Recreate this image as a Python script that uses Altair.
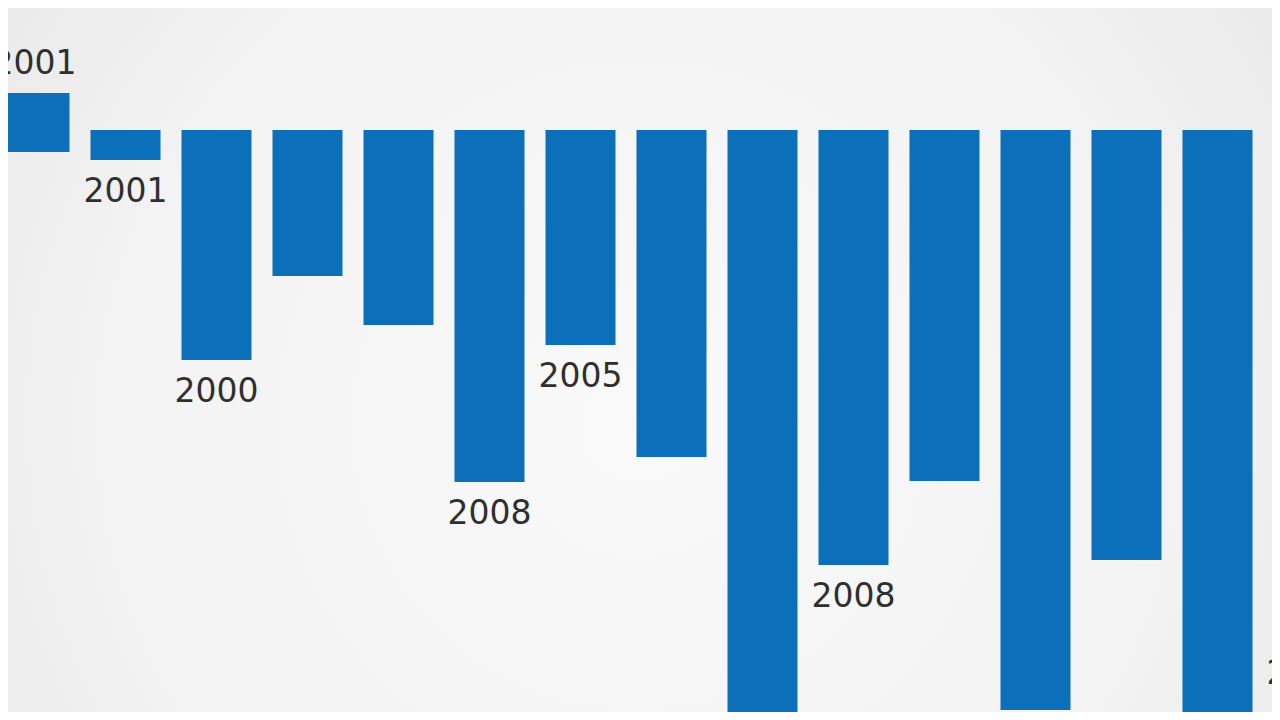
import altair as alt
import pandas as pd

# bar order (position index), bar start and end values, labels
positions = [1, 2, 3, 4, 5, 6, 7, 8, 9, 10, 11, 12, 13, 14, 15]
starts = [3.7, 0, 0, 0, 0, 0, 0, 0, 0, 0, 0, 0, 0, 0, 0]
values = [-2.2, -3.0, -23.0, -14.6, -19.5, -35.2, -21.5, -32.7, -66.0, -43.5, -35.1, -58.0, -43.0, -64.0, -51.2]
labels = ["2001", "2001", "2000", "", "", "2008", "2005", "", "", "2008", "", "", "", "", "2008"]
label_above = [True] + [False] * 14

bars = pd.DataFrame({"pos": positions, "start": starts, "end": values})
lab = pd.DataFrame({
    "pos": positions,
    "anchor": [s if a else v for s, v, a in zip(starts, values, label_above)],
    "label": labels,
    "above": label_above,
})
lab = lab[lab["label"] != ""]

W, H = 1264, 704
xs = alt.Scale(domain=[0.7088, 14.599], nice=False, zero=False, padding=0)
ys = alt.Scale(domain=[-58.2, 12.2], nice=False, zero=False, padding=0)

bg = alt.Chart(pd.DataFrame({"a": [0]})).mark_rect(
    fill=alt.RadialGradient(
        gradient="radial",
        x1=0.5, y1=0.55, r1=0.0,
        x2=0.5, y2=0.55, r2=0.75,
        stops=[
            alt.GradientStop(color="#f9f9f9", offset=0),
            alt.GradientStop(color="#f3f3f3", offset=0.55),
            alt.GradientStop(color="#e3e3e3", offset=1),
        ],
    )
).encode(x=alt.value(0), x2=alt.value(W), y=alt.value(0), y2=alt.value(H))

bar = alt.Chart(bars).mark_bar(color="#0b6fba", size=70, clip=True).encode(
    x=alt.X("pos:Q", scale=xs, axis=None),
    y=alt.Y("start:Q", scale=ys, axis=None),
    y2="end:Q",
)

txt_common = dict(font="DejaVu Sans", fontSize=33, color="#2f2f2f",
                  align="center", baseline="middle", clip=True)

below = alt.Chart(lab[~lab["above"]]).mark_text(dy=32, **txt_common).encode(
    x=alt.X("pos:Q", scale=xs, axis=None),
    y=alt.Y("anchor:Q", scale=ys, axis=None),
    text="label:N",
)
above = alt.Chart(lab[lab["above"]]).mark_text(dy=-29, **txt_common).encode(
    x=alt.X("pos:Q", scale=xs, axis=None),
    y=alt.Y("anchor:Q", scale=ys, axis=None),
    text="label:N",
)

chart = alt.layer(bg, bar, below, above).properties(
    width=W, height=H, padding=0, autosize=alt.AutoSizeParams(type="none"),
    background="#f0f0f0",
).configure_view(stroke=None)

chart.save("out.html", embed_options={"renderer": "svg", "actions": False})
